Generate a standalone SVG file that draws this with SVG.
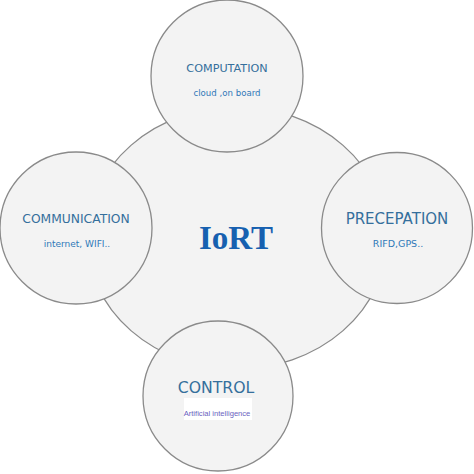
<svg xmlns="http://www.w3.org/2000/svg" width="474" height="474" viewBox="0 0 474 474">
<style>
.shape{fill:#f3f3f3;stroke:#8a8a8a;stroke-width:1.3}
.t{font-family:"DejaVu Sans",Verdana,sans-serif;fill:#356f9c;text-anchor:middle}
.s{font-family:"DejaVu Sans",Verdana,sans-serif;fill:#2f78b8;text-anchor:middle}
</style>
<rect width="474" height="474" fill="#ffffff"/>
<g id="iort">
<ellipse class="shape" cx="237" cy="238" rx="150" ry="131"/>
<text x="236" y="249" font-family="'Liberation Serif','Times New Roman',serif" font-weight="bold" font-size="33" fill="#1660b0" text-anchor="middle">IoRT</text>
</g>
<g id="connectors"></g>
<g id="computation">
<circle class="shape" cx="227" cy="76" r="76"/>
<text class="t" x="227" y="72" font-size="11.2">COMPUTATION</text>
<text class="s" x="227" y="96" font-size="8.6">cloud ,on board</text>
</g>
<g id="communication">
<circle class="shape" cx="76" cy="228" r="76"/>
<text class="t" x="76" y="223" font-size="12.3">COMMUNICATION</text>
<text class="s" x="77" y="247" font-size="9">internet, WIFI..</text>
</g>
<g id="precepation">
<circle class="shape" cx="397" cy="228" r="75.5"/>
<text class="t" x="397" y="224" font-size="15">PRECEPATION</text>
<text class="s" x="398" y="247" font-size="9.5">RIFD,GPS..</text>
</g>
<g id="control">
<circle class="shape" cx="218" cy="396" r="75"/>
<text class="t" x="216" y="393" font-size="15.7">CONTROL</text>
<rect x="184" y="398" width="68" height="22" fill="#ffffff"/>
<text x="217" y="416" font-family="'Liberation Sans',Arial,sans-serif" font-size="7.6" fill="#6a5fc0" text-anchor="middle">Artificial intelligence</text>
</g>
</svg>
